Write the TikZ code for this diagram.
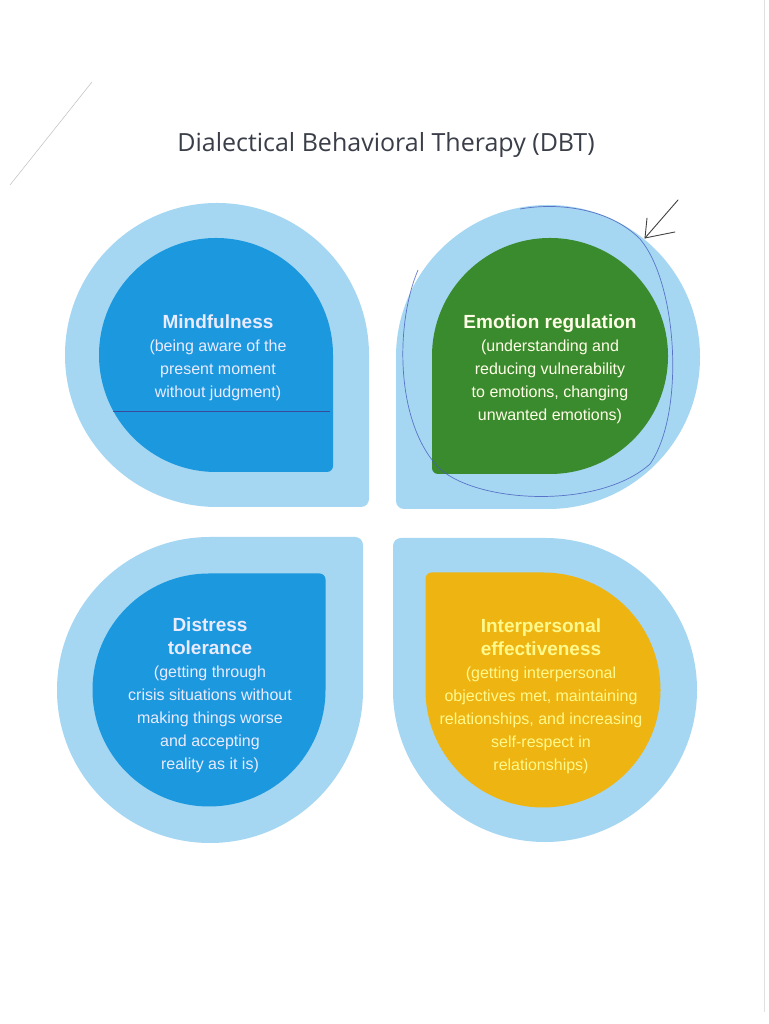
\documentclass[tikz,border=0pt]{standalone}
\usepackage{fontspec}
\setmainfont{Liberation Sans}
\newfontfamily\titlefont{Open Sans}
\definecolor{halo}{RGB}{165,215,242}
\definecolor{dblue}{RGB}{28,152,222}
\definecolor{dgreen}{RGB}{58,138,46}
\definecolor{dyellow}{RGB}{238,180,18}
\definecolor{ink}{RGB}{58,62,72}
\definecolor{pen}{RGB}{70,90,190}
\newcommand\tdrop[6]{% cx, cy, r, rotation, fill, corner radius
  \fill[#5, shift={(#1,#2)}, rotate=#4] (0,-#3) -- ({#3-#6},-#3)
    arc[start angle=-90, end angle=0, radius=#6 pt] -- (#3,0)
    arc[start angle=0, end angle=270, radius=#3 pt] -- cycle;}
\tikzset{
  txt/.style={align=center, inner sep=0pt, font=\fontsize{16}{23}\selectfont},
}
\begin{document}
\begin{tikzpicture}[x=1pt, y=1pt]
\useasboundingbox (0,0) rectangle (768,1024);
\fill[white] (0,0) rectangle (768,1024);
% scan edge and stray pencil mark
\draw[black!12, line width=0.8pt] (764,1024) -- (764,12);
\draw[black!25, line width=0.5pt] (10,839) -- (92,942);
% title
\node[text=ink, font=\titlefont\fontsize{25}{29}\selectfont] (title) at (386,879) {Dialectical Behavioral Therapy (DBT)};
% outer halos
\tdrop{217}{669}{152}{0}{halo}{8}
\tdrop{548}{667}{152}{-90}{halo}{8}
\tdrop{210}{334}{153}{90}{halo}{8}
\tdrop{545}{334}{152}{180}{halo}{8}
% inner drops
\tdrop{216}{669}{117}{0}{dblue}{6}
\tdrop{550}{668}{118}{-90}{dgreen}{6}
\tdrop{209}{334}{116.5}{90}{dblue}{6}
\tdrop{543}{334}{117.5}{180}{dyellow}{6}
% scan line
\draw[violet!70!black, opacity=0.5, line width=0.5pt] (113,613) -- (330,613);
% texts
\node[txt, text=white!92!blue] (mind) at (218,666) {{\fontsize{19}{24}\selectfont\bfseries Mindfulness}\\(being aware of the\\present moment\\without judgment)};
\node[txt, text=white!90!yellow] (emo) at (550,655) {{\fontsize{19}{24}\selectfont\bfseries Emotion regulation}\\(understanding and\\reducing vulnerability\\to emotions, changing\\unwanted emotions)};
\node[txt, text=white!92!blue] (dist) at (210,329) {{\fontsize{19}{24}\selectfont\bfseries Distress}\\{\fontsize{19}{24}\selectfont\bfseries tolerance}\\(getting through\\crisis situations without\\making things worse\\and accepting\\reality as it is)};
\node[txt, text=yellow!45!white] (inter) at (541,328) {{\fontsize{19}{24}\selectfont\bfseries Interpersonal}\\{\fontsize{19}{24}\selectfont\bfseries effectiveness}\\(getting interpersonal\\objectives met, maintaining\\relationships, and increasing\\self-respect in\\relationships)};
% hand-drawn pen circle around emotion regulation
\draw[pen, opacity=0.8, line width=0.7pt] (418,754) .. controls (395,700) and (395,600) .. (440,555)
  .. controls (480,520) and (600,515) .. (650,560)
  .. controls (685,610) and (678,740) .. (640,785)
  .. controls (610,815) and (560,822) .. (520,815);
% hand-drawn arrow
\coordinate (atail) at (678,824);
\coordinate (ahead) at (645,786);
\draw[black!75, line width=0.9pt, line cap=round] (atail) -- (ahead);
\draw[black!75, line width=0.9pt, line cap=round, line join=round] (647,806) -- (ahead) -- (675,792);
\end{tikzpicture}
\end{document}
